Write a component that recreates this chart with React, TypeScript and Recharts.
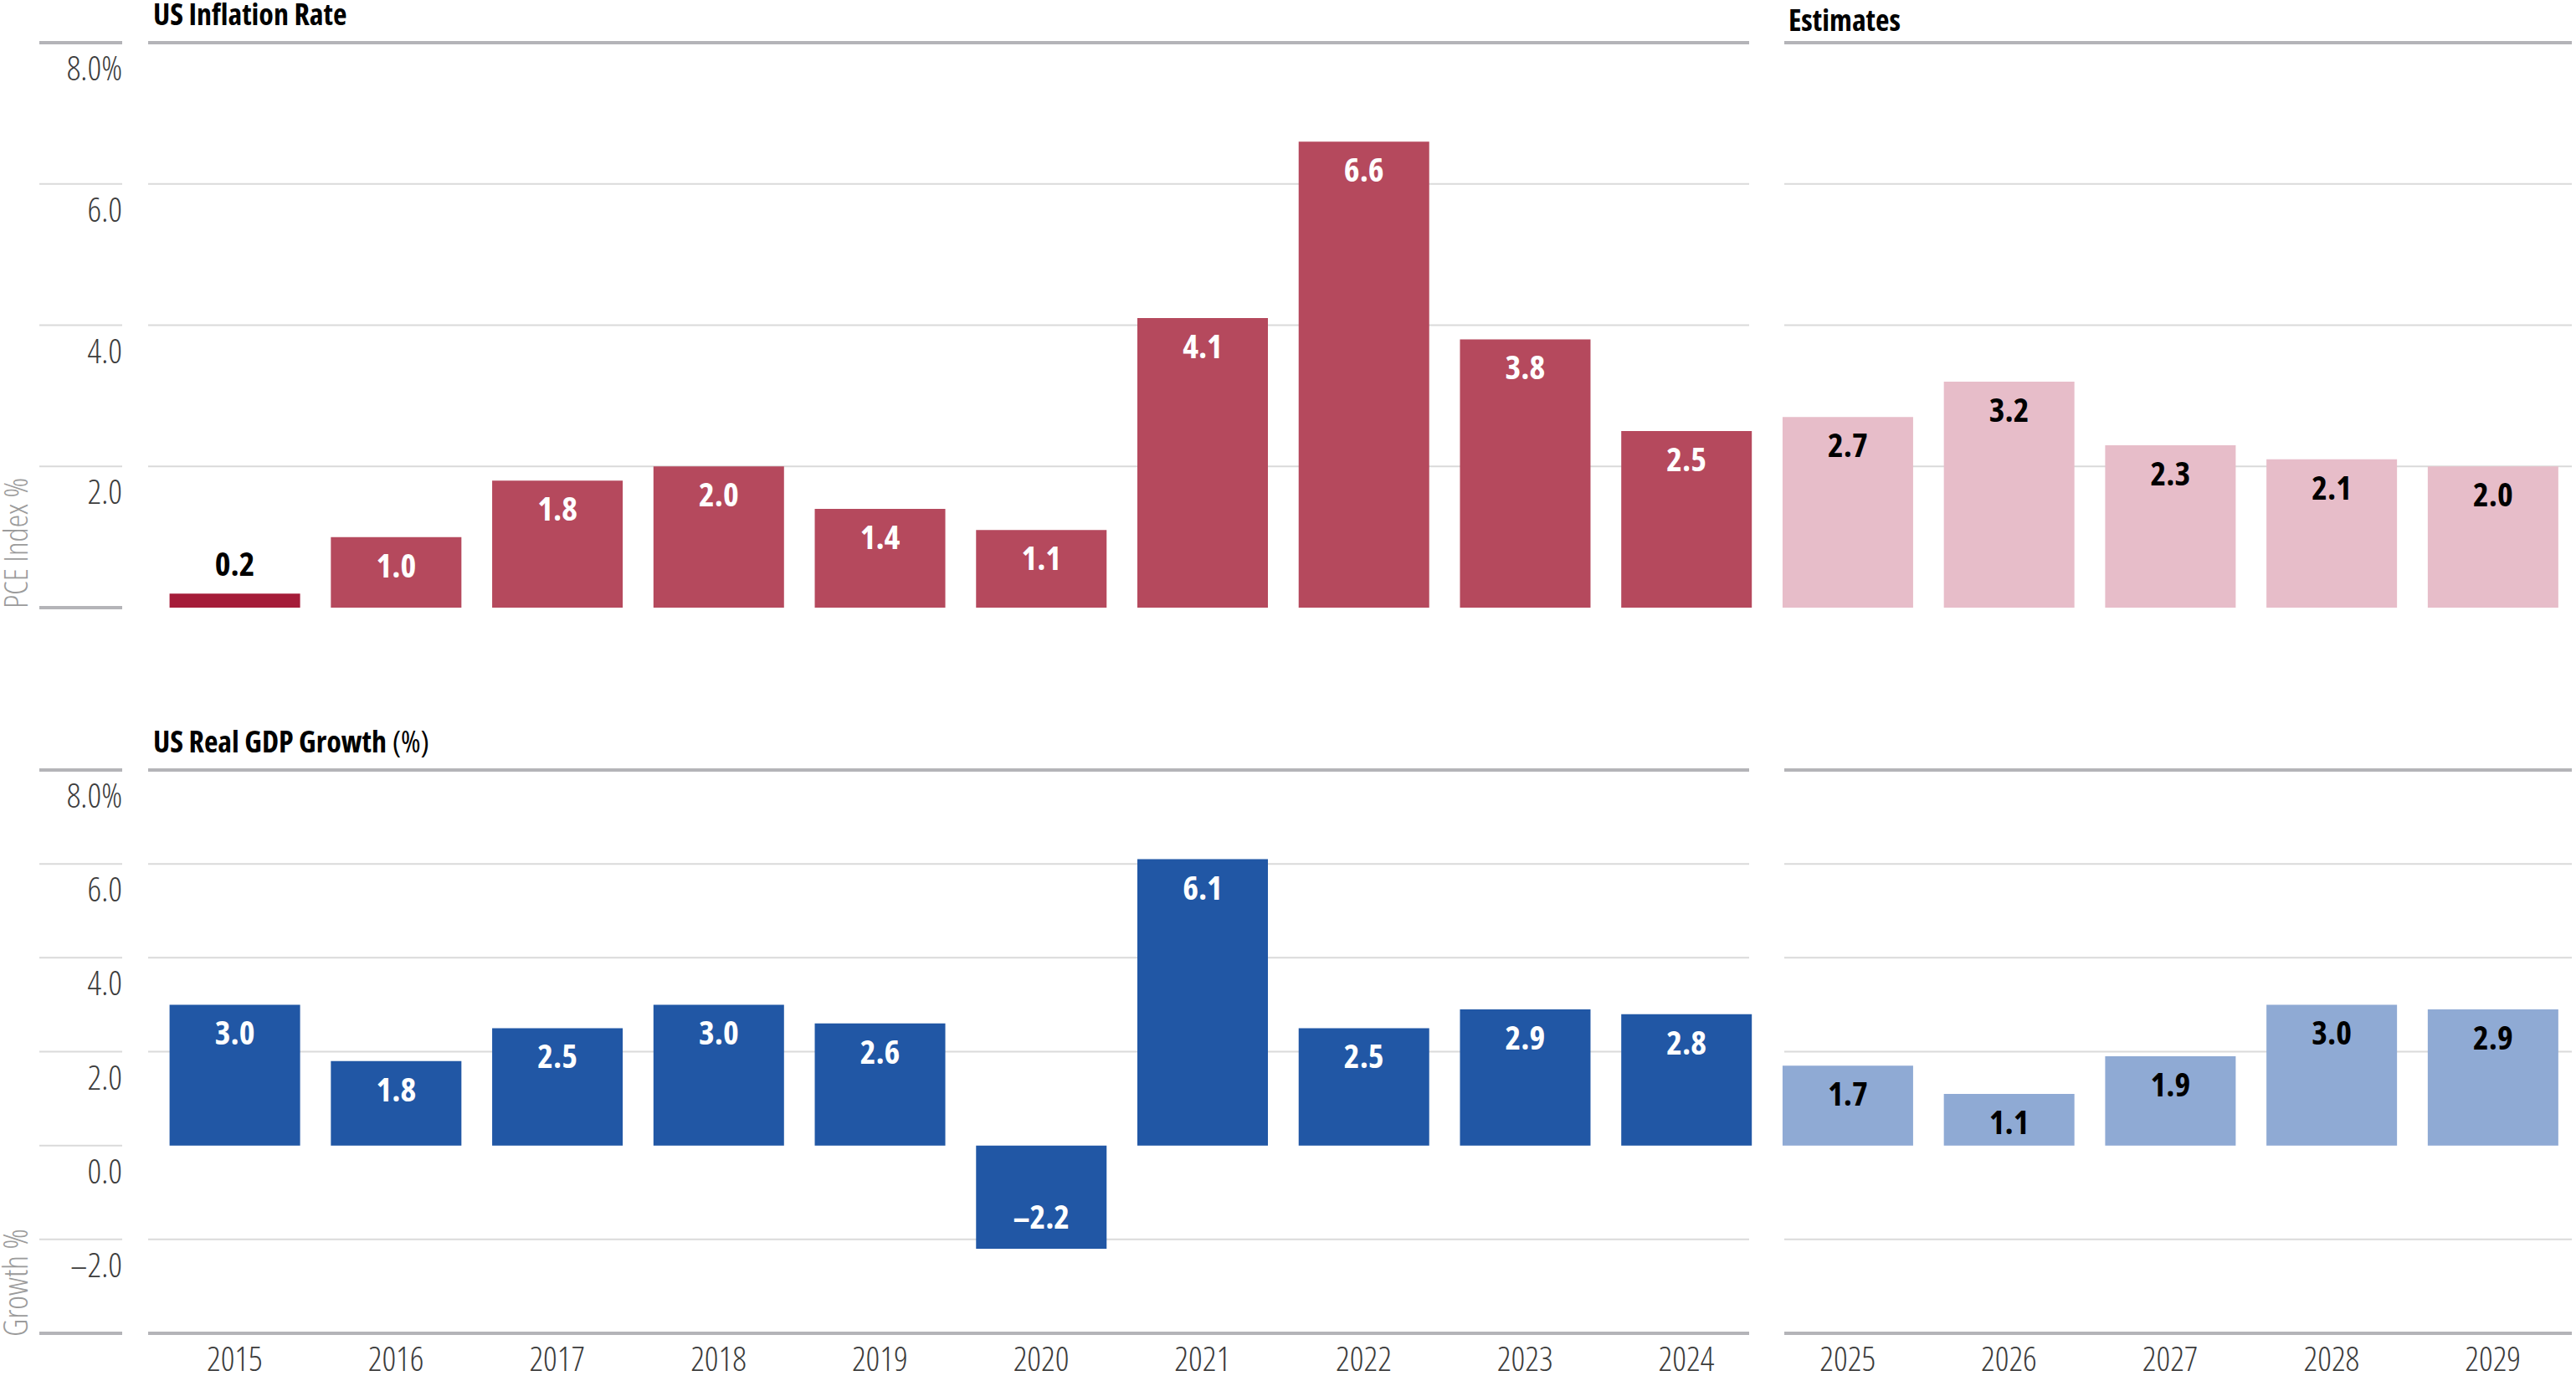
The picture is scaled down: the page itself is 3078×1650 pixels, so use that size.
import React from 'react';
import { BarChart, Bar, XAxis, YAxis, CartesianGrid, Cell, LabelList } from 'recharts';

// categories and values
const years = ['2015', '2016', '2017', '2018', '2019', '2020', '2021', '2022', '2023', '2024', '2025', '2026', '2027', '2028', '2029'];
const firstEstimateYear = '2025';
const inflation = [0.2, 1.0, 1.8, 2.0, 1.4, 1.1, 4.1, 6.6, 3.8, 2.5, 2.7, 3.2, 2.3, 2.1, 2.0];
const gdpGrowth = [3.0, 1.8, 2.5, 3.0, 2.6, -2.2, 6.1, 2.5, 2.9, 2.8, 1.7, 1.1, 1.9, 3.0, 2.9];
const inflationTicks = [0, 2, 4, 6, 8];
const gdpTicks = [-4, -2, 0, 2, 4, 6, 8];

// Open Sans squeezed on its width axis stands in for the condensed face
const FONT = "'Open Sans', sans-serif";
const NARROW = { fontStretch: '75%' };
const NARROW_TICK = { fontStretch: '80%' };
const WIDTH = 3078;
const PLOT_LEFT = 184;
const AXIS_SEGMENT = [47, 146];
const PANELS = [
  [177, 2090],
  [2132, 3073],
];
const THICK = '#b4b4b8';
const THIN = '#dadada';

const inflationData = years.map((year, i) => ({ year, value: inflation[i] }));
const gdpData = years.map((year, i) => ({ year, value: gdpGrowth[i] }));
const isEstimate = (year: string) => Number(year) >= Number(firstEstimateYear);

const fmt = (v: number) => (v < 0 ? '\u2013' + Math.abs(v).toFixed(1) : v.toFixed(1));

// horizontal grid: broken into two panels, no zero line inside the plot
const makeGrid = (min: number, max: number) => (p: any) => {
  const value = max - ((p.y1 - p.y) / p.height) * (max - min);
  const v = Math.round(value * 100) / 100;
  if (v === 0) return <g key={p.key} />;
  const edge = v === min || v === max;
  return (
    <g key={p.key}>
      {PANELS.map(([a, b], i) => (
        <line key={i} x1={a} x2={b} y1={p.y1} y2={p.y1} stroke={edge ? THICK : THIN} strokeWidth={edge ? 4 : 2} />
      ))}
    </g>
  );
};

const makeYTick = (min: number, max: number) => (props: any) => {
  const { y, payload } = props;
  const v = payload.value;
  const edge = v === min || v === max;
  let label = '';
  if (v !== min) label = v === max ? v.toFixed(1) + '%' : fmt(v);
  return (
    <g>
      <line x1={AXIS_SEGMENT[0]} x2={AXIS_SEGMENT[1]} y1={y} y2={y} stroke={edge ? THICK : THIN} strokeWidth={edge ? 4 : 2} />
      {label && (
        <text x={AXIS_SEGMENT[1]} y={y + 45} textAnchor="end" fontFamily={FONT} style={NARROW_TICK} fontWeight={300} fontSize={41} fill="#3c3c3c">
          {label}
        </text>
      )}
    </g>
  );
};

const YearTick = (props: any) => {
  const { x, y, payload } = props;
  return (
    <text x={x} y={y + 45} textAnchor="middle" fontFamily={FONT} style={NARROW} fontWeight={300} fontSize={41} fill="#3c3c3c">
      {payload.value}
    </text>
  );
};

const makeBarLabel = (data: { year: string; value: number }[]) => (props: any) => {
  const { x, y, width, height, index } = props;
  const d = data[index];
  if (!d) return null;
  const top = Math.min(y, y + height);
  const bottom = Math.max(y, y + height);
  const cx = x + width / 2;
  const small = bottom - top < 50;
  let ty: number;
  if (small) ty = top - 21;
  else if (d.value < 0) ty = bottom - 24;
  else ty = top + 48;
  const fill = small || isEstimate(d.year) ? '#000000' : '#ffffff';
  return (
    <text x={cx} y={ty} textAnchor="middle" fontFamily={FONT} style={NARROW} fontWeight={700} fontSize={40} fill={fill}>
      {fmt(d.value)}
    </text>
  );
};

function inflationColor(year: string, v: number) {
  if (isEstimate(year)) return '#e7bdc9';
  if (v < 0.5) return '#a51c39';
  return '#b5495d';
}

function gdpColor(year: string) {
  return isEstimate(year) ? '#8faad4' : '#2157a5';
}

export default function App() {
  return (
    <div style={{ position: 'absolute', left: 0, top: 0, width: WIDTH, height: 1650, background: '#fff' }}>
      {/* US inflation rate */}
      <div style={{ position: 'absolute', left: 0, top: 0 }}>
        <BarChart width={WIDTH} height={760} data={inflationData} margin={{ top: 51, right: 3, bottom: 34, left: 0 }} barCategoryGap="9.65%">
          <CartesianGrid vertical={false} horizontal={makeGrid(0, 8)} />
          <XAxis dataKey="year" hide />
          <YAxis
            type="number"
            domain={[0, 8]}
            ticks={inflationTicks}
            width={PLOT_LEFT}
            axisLine={false}
            tickLine={false}
            tickSize={0}
            tickMargin={0}
            tick={makeYTick(0, 8)}
            interval={0}
          />
          <Bar dataKey="value" isAnimationActive={false}>
            {inflationData.map((d) => (
              <Cell key={d.year} fill={inflationColor(d.year, d.value)} />
            ))}
            <LabelList dataKey="value" content={makeBarLabel(inflationData)} />
          </Bar>
        </BarChart>
      </div>

      {/* US real GDP growth */}
      <div style={{ position: 'absolute', left: 0, top: 760 }}>
        <BarChart width={WIDTH} height={890} data={gdpData} margin={{ top: 160, right: 3, bottom: 0, left: 0 }} barCategoryGap="9.65%">
          <CartesianGrid vertical={false} horizontal={makeGrid(-4, 8)} />
          <XAxis
            dataKey="year"
            height={57}
            axisLine={false}
            tickLine={false}
            tickSize={0}
            tickMargin={0}
            interval={0}
            tick={<YearTick />}
          />
          <YAxis
            type="number"
            domain={[-4, 8]}
            ticks={gdpTicks}
            width={PLOT_LEFT}
            axisLine={false}
            tickLine={false}
            tickSize={0}
            tickMargin={0}
            tick={makeYTick(-4, 8)}
            interval={0}
          />
          <Bar dataKey="value" isAnimationActive={false}>
            {gdpData.map((d) => (
              <Cell key={d.year} fill={gdpColor(d.year)} />
            ))}
            <LabelList dataKey="value" content={makeBarLabel(gdpData)} />
          </Bar>
        </BarChart>
      </div>

      {/* titles */}
      <svg width={WIDTH} height={1650} style={{ position: 'absolute', left: 0, top: 0, pointerEvents: 'none' }}>
        <text x={183} y={30} fontFamily={FONT} style={NARROW} fontWeight={700} fontSize={36} fill="#000">
          US Inflation Rate
        </text>
        <text x={2137} y={37} fontFamily={FONT} style={NARROW} fontWeight={700} fontSize={36} fill="#000">
          Estimates
        </text>
        <text x={183} y={899} fontFamily={FONT} style={NARROW} fontSize={36} fill="#000">
          <tspan fontWeight={700}>US Real GDP Growth</tspan>
          <tspan fontWeight={400}> (%)</tspan>
        </text>
        <text transform="translate(33, 727) rotate(-90)" fontFamily={FONT} style={NARROW} fontWeight={300} fontSize={39} fill="#9b9b9b">
          PCE Index %
        </text>
        <text transform="translate(33, 1597) rotate(-90)" fontFamily={FONT} style={NARROW} fontWeight={300} fontSize={40} fill="#9b9b9b">
          Growth %
        </text>
      </svg>
    </div>
  );
}
